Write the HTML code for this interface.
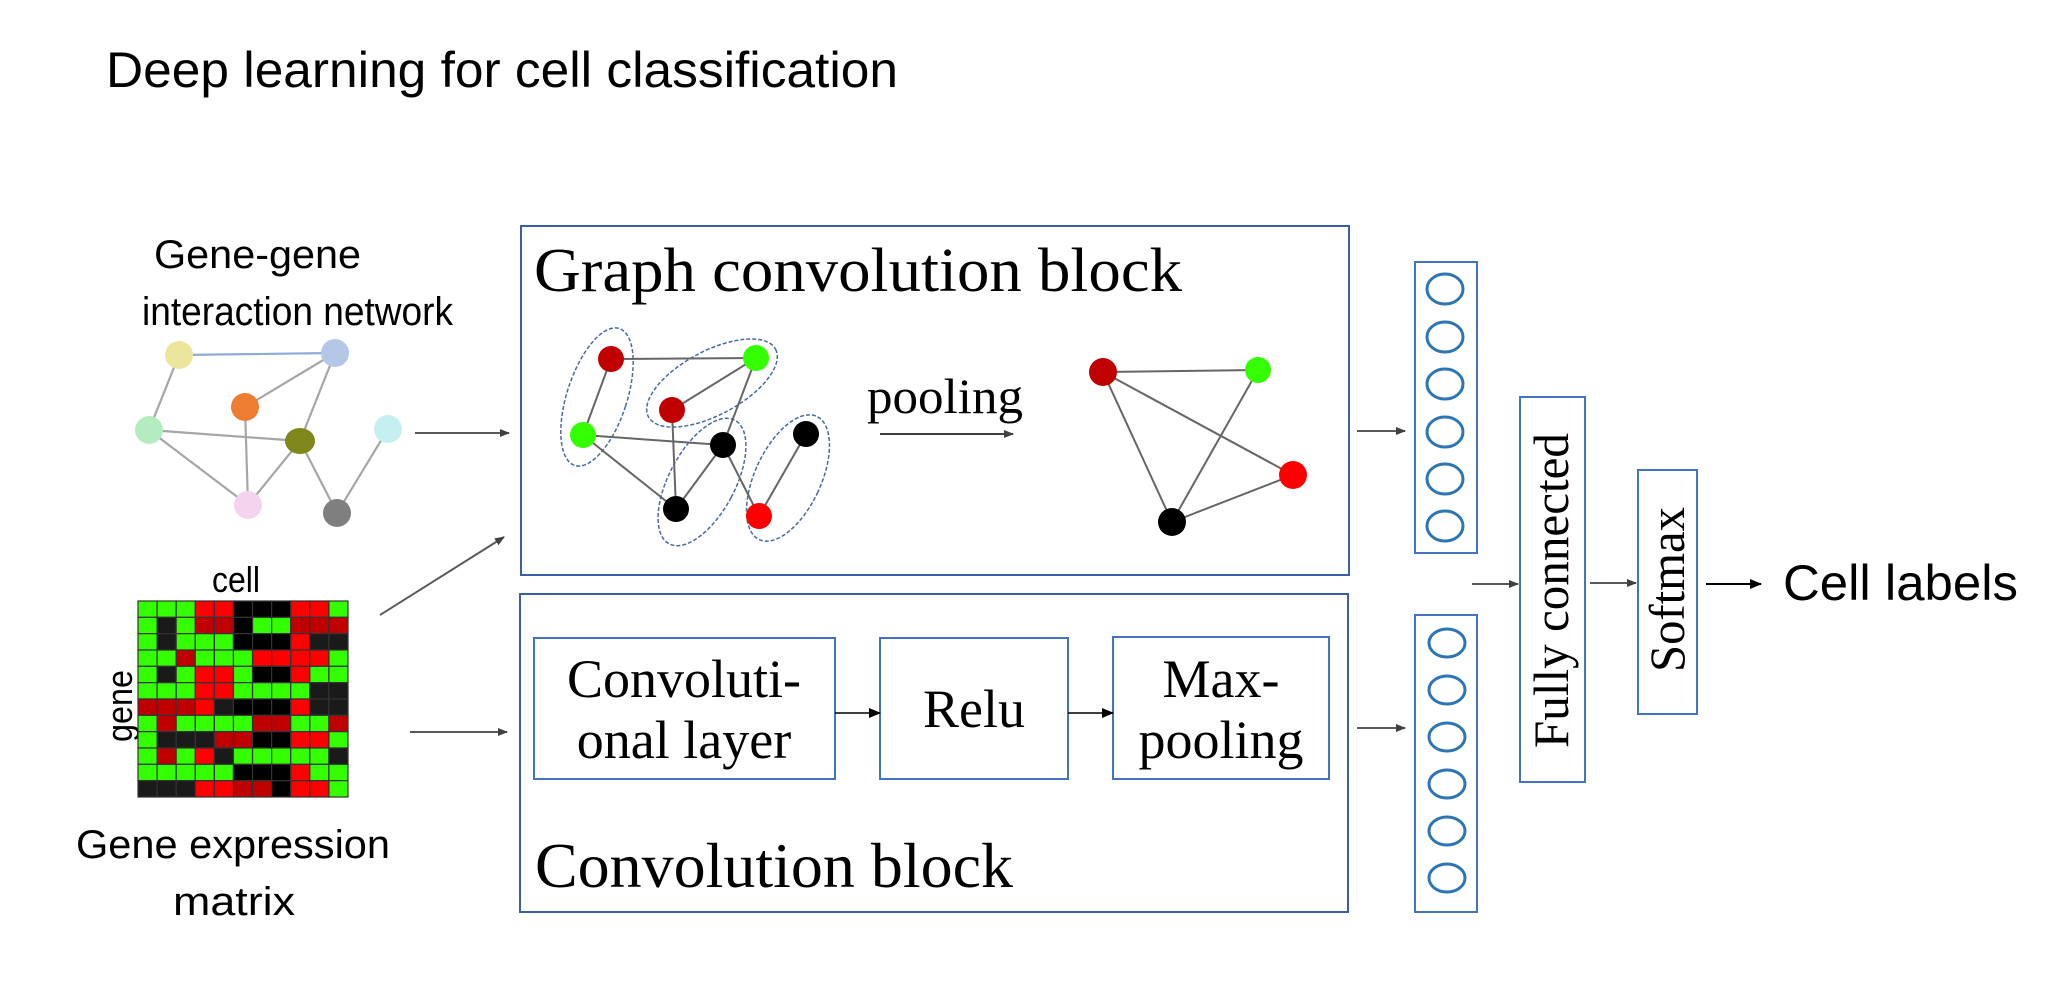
<!DOCTYPE html>
<html><head><meta charset="utf-8"><style>
html,body{margin:0;padding:0;background:#fff;width:2048px;height:981px;overflow:hidden}
svg{display:block}
.cal{font-family:"Liberation Sans",sans-serif}
.tm{font-family:"Liberation Serif",serif}
</style></head><body>
<svg width="2048" height="981" viewBox="0 0 2048 981" xmlns="http://www.w3.org/2000/svg">
<defs>
<marker id="ah" markerWidth="10" markerHeight="8" refX="9" refY="4" orient="auto" markerUnits="userSpaceOnUse"><path d="M0,0 L10,4 L0,8 z" fill="#404040"/></marker>
<marker id="ahb" markerWidth="12" markerHeight="10" refX="11" refY="5" orient="auto" markerUnits="userSpaceOnUse"><path d="M0,0 L12,5 L0,10 z" fill="#000"/></marker>
</defs>

<text class="cal" x="106" y="87" font-size="50" textLength="792" lengthAdjust="spacingAndGlyphs">Deep learning for cell classification</text>

<text class="cal" x="154" y="268" font-size="40" textLength="207" lengthAdjust="spacingAndGlyphs">Gene-gene</text>
<text class="cal" x="142" y="325" font-size="40" textLength="311" lengthAdjust="spacingAndGlyphs">interaction network</text>

<g stroke="#a6a6a6" stroke-width="2.2">
<line x1="179" y1="355" x2="335" y2="353" stroke="#8eaadb"/>
<line x1="179" y1="355" x2="149" y2="430"/>
<line x1="335" y1="353" x2="245" y2="407"/>
<line x1="335" y1="353" x2="300" y2="441"/>
<line x1="149" y1="430" x2="300" y2="441"/>
<line x1="149" y1="430" x2="248" y2="505"/>
<line x1="245" y1="407" x2="248" y2="505"/>
<line x1="300" y1="441" x2="248" y2="505"/>
<line x1="300" y1="441" x2="337" y2="513"/>
<line x1="337" y1="513" x2="388" y2="429"/>
</g>
<circle cx="179" cy="355" r="14" fill="#ece59c"/>
<circle cx="335" cy="353" r="14" fill="#b4c7e7"/>
<circle cx="245" cy="407" r="14" fill="#ed7d31"/>
<circle cx="149" cy="430" r="14" fill="#b4ecbf"/>
<ellipse cx="300" cy="441" rx="15" ry="13" fill="#7f861c"/>
<circle cx="388" cy="429" r="14" fill="#c5eff0"/>
<circle cx="248" cy="505" r="14" fill="#f4d3ef"/>
<circle cx="337" cy="513" r="14" fill="#7f7f7f"/>

<text class="cal" x="212" y="592" font-size="36" textLength="48" lengthAdjust="spacingAndGlyphs">cell</text>
<text class="cal" font-size="36" transform="translate(132,742) rotate(-90)" textLength="72" lengthAdjust="spacingAndGlyphs">gene</text>
<g id="mx"></g>
<text class="cal" x="76" y="858" font-size="40" textLength="314" lengthAdjust="spacingAndGlyphs">Gene expression</text>
<text class="cal" x="173" y="915" font-size="40" textLength="122" lengthAdjust="spacingAndGlyphs">matrix</text>

<g stroke="#595959" stroke-width="2" marker-end="url(#ah)">
<line x1="415" y1="433" x2="509" y2="433"/>
<line x1="380" y1="615" x2="504" y2="537"/>
<line x1="410" y1="732" x2="507" y2="732"/>
</g>

<rect x="521" y="226" width="828" height="349" fill="none" stroke="#3b5ea8" stroke-width="2"/>
<text class="tm" x="534" y="291" font-size="62" textLength="648" lengthAdjust="spacingAndGlyphs">Graph convolution block</text>
<g fill="none" stroke="#4a6aa5" stroke-width="1.5" stroke-dasharray="4,2">
<ellipse cx="597" cy="397" rx="30" ry="72" transform="rotate(18 597 397)"/>
<ellipse cx="712" cy="383" rx="72" ry="32" transform="rotate(-28 712 383)"/>
<ellipse cx="702" cy="482" rx="33" ry="70" transform="rotate(28 702 482)"/>
<ellipse cx="788" cy="478" rx="33" ry="68" transform="rotate(25 788 478)"/>
</g>
<g stroke="#666" stroke-width="2">
<line x1="611" y1="359" x2="756" y2="358"/>
<line x1="611" y1="359" x2="583" y2="435"/>
<line x1="756" y1="358" x2="672" y2="410"/>
<line x1="756" y1="358" x2="723" y2="445"/>
<line x1="672" y1="410" x2="676" y2="509"/>
<line x1="583" y1="435" x2="723" y2="445"/>
<line x1="583" y1="435" x2="676" y2="509"/>
<line x1="723" y1="445" x2="676" y2="509"/>
<line x1="723" y1="445" x2="759" y2="516"/>
<line x1="806" y1="434" x2="759" y2="516"/>
</g>
<circle cx="611" cy="359" r="13" fill="#c00000"/>
<circle cx="756" cy="358" r="13" fill="#33ff00"/>
<circle cx="672" cy="410" r="13" fill="#c00000"/>
<circle cx="583" cy="435" r="13" fill="#33ff00"/>
<circle cx="723" cy="445" r="13" fill="#000"/>
<circle cx="806" cy="434" r="13" fill="#000"/>
<circle cx="676" cy="509" r="13" fill="#000"/>
<circle cx="759" cy="516" r="13" fill="#ff0000"/>
<text class="tm" x="867" y="413" font-size="50" textLength="156" lengthAdjust="spacingAndGlyphs">pooling</text>
<line x1="880" y1="434" x2="1013" y2="434" stroke="#404040" stroke-width="2" marker-end="url(#ah)"/>
<g stroke="#666" stroke-width="2">
<line x1="1103" y1="372" x2="1258" y2="370"/>
<line x1="1103" y1="372" x2="1293" y2="475"/>
<line x1="1103" y1="372" x2="1172" y2="522"/>
<line x1="1258" y1="370" x2="1172" y2="522"/>
<line x1="1172" y1="522" x2="1293" y2="475"/>
</g>
<circle cx="1103" cy="372" r="14" fill="#c00000"/>
<circle cx="1258" cy="370" r="13" fill="#33ff00"/>
<circle cx="1293" cy="475" r="14" fill="#ff0000"/>
<circle cx="1172" cy="522" r="14" fill="#000"/>

<rect x="520" y="594" width="828" height="318" fill="none" stroke="#3b5ea8" stroke-width="2"/>
<g fill="none" stroke="#4472c4" stroke-width="2">
<rect x="534" y="638" width="301" height="141"/>
<rect x="880" y="638" width="188" height="141"/>
<rect x="1113" y="637" width="216" height="142"/>
</g>
<g class="tm" font-size="54" text-anchor="middle">
<text x="684" y="697">Convoluti-</text>
<text x="684" y="758">onal layer</text>
<text x="974" y="727">Relu</text>
<text x="1221" y="697">Max-</text>
<text x="1221" y="758">pooling</text>
</g>
<g stroke="#000" stroke-width="1.5" marker-end="url(#ahb)">
<line x1="835" y1="713" x2="880" y2="713"/>
<line x1="1068" y1="713" x2="1113" y2="713"/>
</g>
<text class="tm" x="535" y="887" font-size="64" textLength="478" lengthAdjust="spacingAndGlyphs">Convolution block</text>

<g fill="none" stroke="#4472c4" stroke-width="2">
<rect x="1415" y="262" width="62" height="291"/>
<rect x="1415" y="615" width="62" height="297"/>
</g>
<g fill="none" stroke="#2e75b6" stroke-width="3">
<ellipse cx="1445" cy="289" rx="18" ry="15"/>
<ellipse cx="1445" cy="337" rx="18" ry="15"/>
<ellipse cx="1445" cy="384" rx="18" ry="15"/>
<ellipse cx="1445" cy="432" rx="18" ry="15"/>
<ellipse cx="1445" cy="479" rx="18" ry="15"/>
<ellipse cx="1445" cy="526" rx="18" ry="15"/>
<ellipse cx="1447" cy="643" rx="18" ry="14"/>
<ellipse cx="1447" cy="690" rx="18" ry="14"/>
<ellipse cx="1447" cy="737" rx="18" ry="14"/>
<ellipse cx="1447" cy="784" rx="18" ry="14"/>
<ellipse cx="1447" cy="831" rx="18" ry="14"/>
<ellipse cx="1447" cy="878" rx="18" ry="14"/>
</g>
<g stroke="#595959" stroke-width="2" marker-end="url(#ah)">
<line x1="1357" y1="431" x2="1405" y2="431"/>
<line x1="1357" y1="728" x2="1405" y2="728"/>
<line x1="1472" y1="584" x2="1518" y2="584"/>
<line x1="1590" y1="583" x2="1636" y2="583"/>
</g>
<rect x="1520" y="397" width="65" height="385" fill="none" stroke="#4472c4" stroke-width="2"/>
<text class="tm" font-size="50" transform="translate(1568,748) rotate(-90)" textLength="315" lengthAdjust="spacingAndGlyphs">Fully connected</text>
<rect x="1638" y="470" width="59" height="244" fill="none" stroke="#4472c4" stroke-width="2"/>
<text class="tm" font-size="50" transform="translate(1684,672) rotate(-90)" textLength="165" lengthAdjust="spacingAndGlyphs">Softmax</text>
<line x1="1706" y1="584" x2="1761" y2="584" stroke="#000" stroke-width="2" marker-end="url(#ahb)"/>
<text class="cal" x="1783" y="600" font-size="50" textLength="235" lengthAdjust="spacingAndGlyphs">Cell labels</text>
</svg>
<script>
(function(){
var rows=["GGGRRKKKRRG","GkGDDKGGDDD","GkGGGKKKRkk","GGDGGGRRRRG","GkGRRGKKRGG","GGGRRGGGGkk","DDDRkKKKRkk","GDGGGGDDGGD","GkkkDDKKRRG","GDGRkGGGGGk","GGGGGKKKRGG","kkkRRDDKRRG"];
var col={G:"#33ff00",R:"#ff0000",D:"#c00000",K:"#000000",k:"#1a1a1a"};
var g=document.getElementById("mx"),ns="http://www.w3.org/2000/svg";
var x0=138,y0=601,w=210/11,h=196/12;
for(var r=0;r<12;r++)for(var c=0;c<11;c++){var e=document.createElementNS(ns,"rect");e.setAttribute("x",x0+c*w);e.setAttribute("y",y0+r*h);e.setAttribute("width",w);e.setAttribute("height",h);e.setAttribute("fill",col[rows[r][c]]);e.setAttribute("stroke","#333");e.setAttribute("stroke-width","1.2");g.appendChild(e);}
})();
</script>
</body></html>
